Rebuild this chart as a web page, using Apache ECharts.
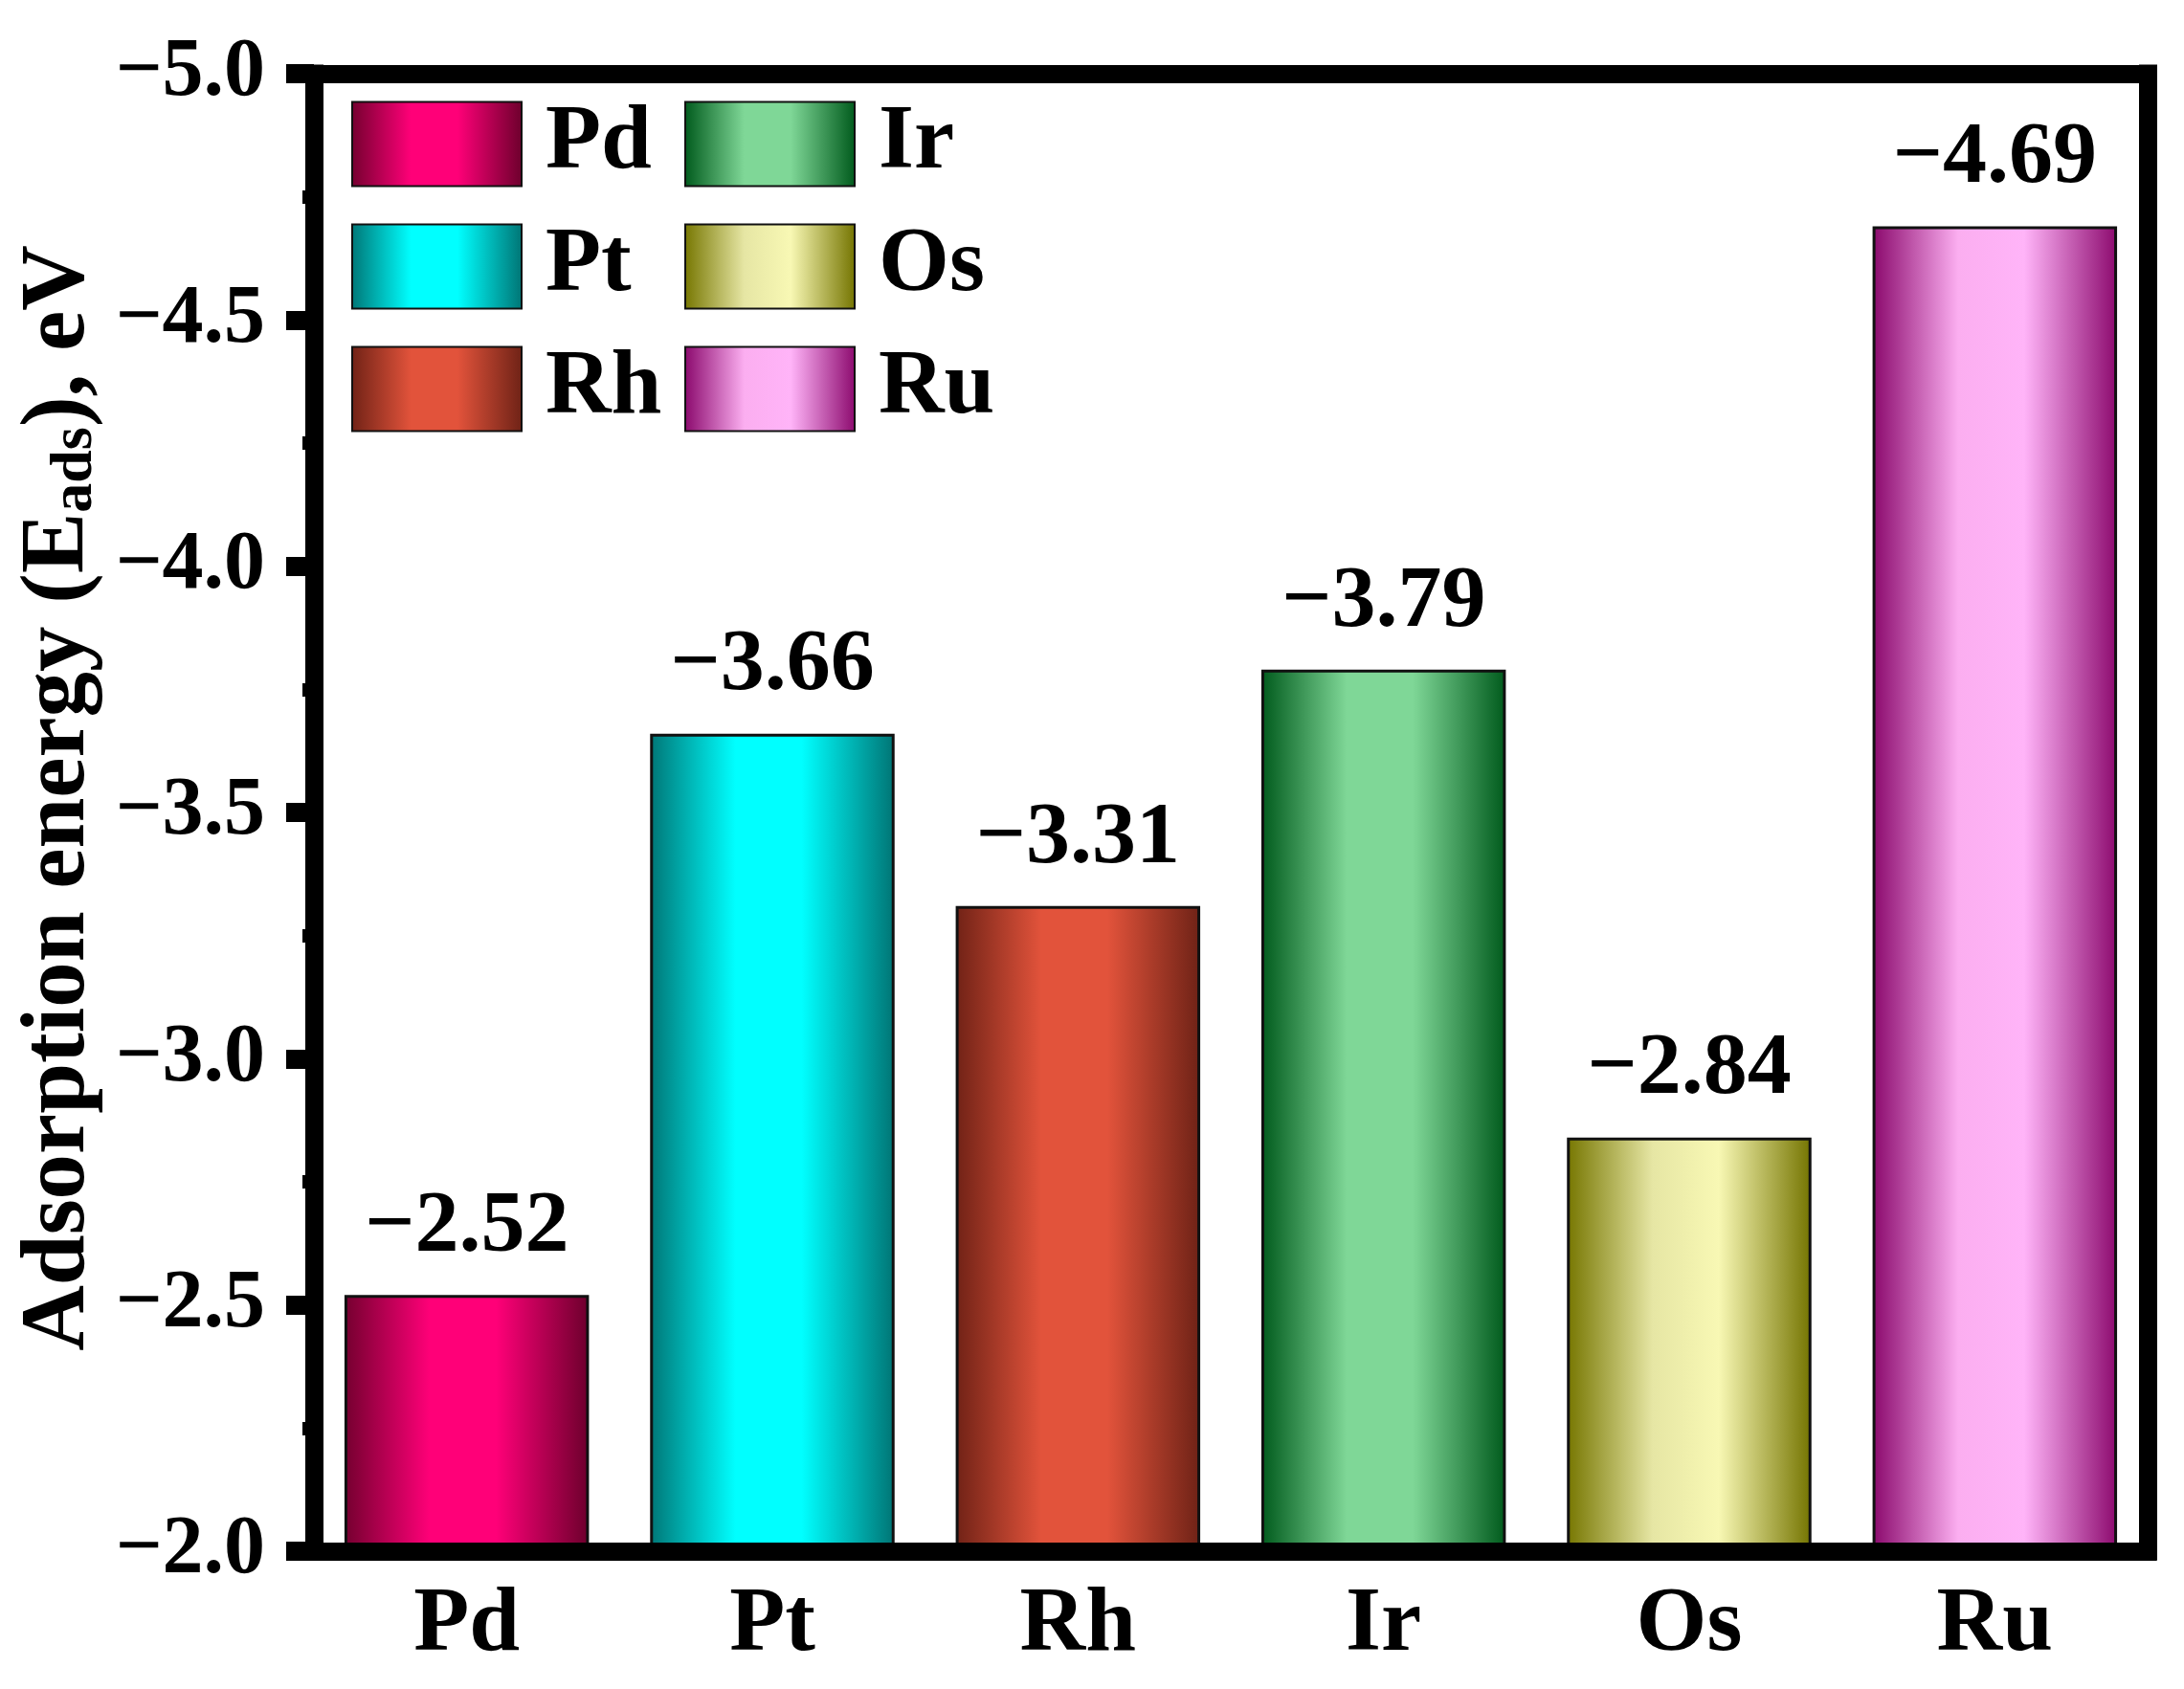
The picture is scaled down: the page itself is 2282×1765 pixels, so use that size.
<!DOCTYPE html>
<html>
<head>
<meta charset="utf-8">
<title>Adsorption energy</title>
<script src="https://cdn.jsdelivr.net/npm/echarts@6/dist/echarts.min.js"></script>
<style>
  html, body { margin: 0; padding: 0; background: #fff; }
  #chart { width: 2282px; height: 1765px; }
</style>
</head>
<body>
<div id="chart"></div>
<script>
// data
var metals = ['Pd', 'Pt', 'Rh', 'Ir', 'Os', 'Ru'];
var eads = [-2.52, -3.66, -3.31, -3.79, -2.84, -4.69];
var yTicks = [-5.0, -4.5, -4.0, -3.5, -3.0, -2.5, -2.0];

// bar shading, dark edge -> light middle -> dark edge
var shades = {
  Pd: ['#74002f', '#ff0078', '#ff0078', '#6c002c'],
  Pt: ['#007676', '#00ffff', '#00ffff', '#007474'],
  Rh: ['#702216', '#e2533b', '#e2533b', '#6e2216'],
  Ir: ['#005a1c', '#7fd797', '#7fd797', '#005a1c'],
  Os: ['#767600', '#e6e6a4', '#f8f8b4', '#747400'],
  Ru: ['#8a086c', '#fbaef0', '#ffb4f8', '#8c0a6e']
};

var FONT = "'Liberation Serif', 'Times New Roman', serif";

function grad(c) {
  return new echarts.graphic.LinearGradient(0, 0, 1, 0, [
    {offset: 0, color: c[0]},
    {offset: 0.35, color: c[1]},
    {offset: 0.62, color: c[2]},
    {offset: 1, color: c[3]}
  ]);
}

function minus(v, d) {
  return (v < 0 ? '\u2212' : '') + Math.abs(v).toFixed(d);
}

var series = metals.map(function (m, i) {
  return {
    name: m,
    type: 'bar',
    barWidth: '80%',
    barGap: '-100%',
    data: metals.map(function (c, j) { return j === i ? eads[i] : '-'; }),
    itemStyle: { color: grad(shades[m]), borderColor: '#111', borderWidth: 3 },
    label: {
      show: true,
      position: 'top',
      distance: 24,
      fontFamily: FONT,
      fontWeight: 'bold',
      fontSize: 92,
      color: '#000',
      formatter: function (p) { return minus(p.value, 2); }
    }
  };
});

var legendBase = {
  orient: 'vertical',
  top: 98,
  itemWidth: 177,
  itemHeight: 88,
  itemGap: 33,
  icon: 'rect',
  selectedMode: false,
  textStyle: {
    fontFamily: FONT, fontWeight: 'bold', fontSize: 95, color: '#000',
    lineHeight: 88, padding: [0, 0, 0, 20]
  }
};

var chart = echarts.init(document.getElementById('chart'));
chart.setOption({
  animation: false,
  backgroundColor: '#fff',
  grid: { left: 328, right: 38, top: 77, bottom: 144, containLabel: false, outerBoundsMode: 'none' },
  legend: [
    Object.assign({}, legendBase, { left: 362, data: metals.slice(0, 3) }),
    Object.assign({}, legendBase, { left: 710, data: metals.slice(3) })
  ],
  xAxis: [{
    type: 'category',
    data: metals,
    z: 10,
    axisLine: { lineStyle: { color: '#000', width: 19, cap: 'square' } },
    axisTick: { show: false },
    axisLabel: { margin: 31, fontFamily: FONT, fontWeight: 'bold', fontSize: 95, color: '#000' },
    splitLine: { show: false }
  }, {
    type: 'category',
    position: 'top',
    data: metals,
    z: 10,
    axisLine: { lineStyle: { color: '#000', width: 19, cap: 'square' } },
    axisTick: { show: false },
    axisLabel: { show: false },
    splitLine: { show: false }
  }],
  yAxis: [{
    type: 'value',
    min: yTicks[0],
    max: yTicks[yTicks.length - 1],
    interval: 0.5,
    inverse: true,
    z: 10,
    name: 'Adsorption energy (E{s|ads}), eV',
    nameLocation: 'middle',
    nameGap: 213,
    nameTextStyle: {
      fontFamily: FONT, fontWeight: 'bold', fontSize: 95, color: '#000', lineHeight: 95,
      padding: [0, 0, 0, 30],
      rich: { s: { fontFamily: FONT, fontWeight: 'bold', fontSize: 62, lineHeight: 20, verticalAlign: 'bottom', color: '#000' } }
    },
    axisLine: { show: true, lineStyle: { color: '#000', width: 19, cap: 'square' } },
    axisTick: { show: true, length: 29, lineStyle: { color: '#000', width: 20 } },
    minorTick: { show: true, splitNumber: 2, length: 12, lineStyle: { color: '#000', width: 14 } },
    axisLabel: {
      margin: 51, fontFamily: FONT, fontWeight: 'bold', fontSize: 86, color: '#000',
      formatter: function (v) { return minus(v, 1); }
    },
    splitLine: { show: false }
  }, {
    type: 'value',
    position: 'right',
    min: yTicks[0],
    max: yTicks[yTicks.length - 1],
    interval: 0.5,
    inverse: true,
    z: 10,
    axisLine: { show: true, lineStyle: { color: '#000', width: 19, cap: 'square' } },
    axisTick: { show: false },
    axisLabel: { show: false },
    splitLine: { show: false }
  }],
  series: series
});
</script>
</body>
</html>
